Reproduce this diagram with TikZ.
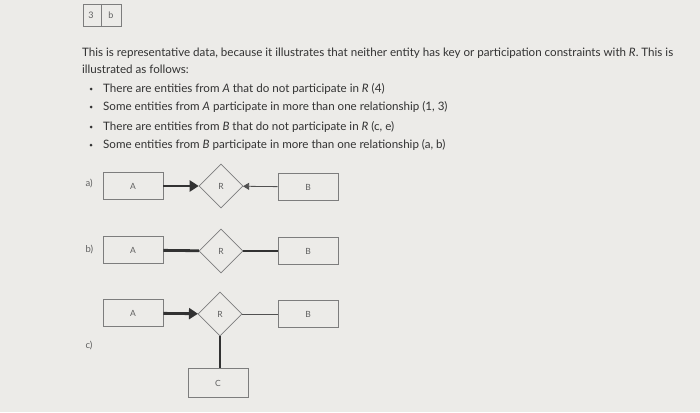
\documentclass[tikz,border=0pt]{standalone}
\usepackage{fontspec}
\setmainfont{Lato}
\usetikzlibrary{shapes.geometric,positioning,arrows.meta}
\definecolor{paper}{RGB}{236,235,232}
\definecolor{ink}{RGB}{50,50,50}
\definecolor{boxline}{RGB}{125,125,125}
\definecolor{boxtext}{RGB}{95,95,95}

\tikzset{
    entity/.style={draw=boxline,semithick,minimum width=60pt,minimum height=27pt,
        text=boxtext,font=\fontsize{8.5}{9}\selectfont},
    rel/.style={draw=boxline,semithick,diamond,inner sep=0pt,minimum width=44pt,minimum height=44pt,
        text=boxtext,font=\fontsize{8.5}{9}\selectfont},
    tag/.style={anchor=west,text=boxtext,font=\fontsize{9.5}{11}\selectfont},
    dot/.style={circle,fill=ink,inner sep=0pt,minimum size=3pt},
    heavy/.style={line width=2.8pt,draw=ink},
    light/.style={line width=0.8pt,draw=ink!85},
}

\begin{document}
\begin{tikzpicture}[x=1pt,y=-1pt,font=\fontsize{11.6}{14}\selectfont,text=ink]
    \useasboundingbox[fill=paper] (0,0) rectangle (700,412);

    % question tag
    \draw[boxline] (83,4) rectangle (121,26) (101,4) -- (101,26);
    \node[text=boxtext,font=\fontsize{9}{10}\selectfont] (qnum) at (91,15) {3};
    \node[text=boxtext,font=\fontsize{9}{10}\selectfont] (qpart) at (111,15) {b};

    % explanation
    \node[anchor=west,inner sep=0pt] (line1) at (82,53) {This is representative data, because it illustrates that neither entity has key or participation constraints with \textit{R}. This is};
    \node[anchor=west,inner sep=0pt] (line2) at (82,69) {illustrated as follows:};
    \foreach \y/\txt in {89/{There are entities from \textit{A} that do not participate in \textit{R} (4)},
        107/{Some entities from \textit{A} participate in more than one relationship (1, 3)},
        127/{There are entities from \textit{B} that do not participate in \textit{R} (c, e)},
        145/{Some entities from \textit{B} participate in more than one relationship (a, b)}} {
        \node[dot] at (91,\y) {};
        \node[anchor=west,inner sep=0pt] at (103,\y) {\txt};
    }

    % a)
    \node[tag] (la) at (82,184) {a)};
    \node[entity] (aA) at (133,186) {A};
    \node[rel] (aR) at (221,186) {R};
    \node[entity] (aB) at (308,187) {B};
    \draw[heavy,-{Triangle[length=9pt,width=11pt]}] (aA) -- (aR);
    \draw[light,-{Triangle[length=6pt,width=7pt]}] (aB) -- (aR);

    % b)
    \node[tag] (lb) at (82,250) {b)};
    \node[entity] (bA) at (133,250) {A};
    \node[rel] (bR) at (221,251) {R};
    \node[entity] (bB) at (308,251) {B};
    \draw[heavy] (bA) -- (bR);
    \draw[heavy] (bR) -- (bB);

    % c)
    \node[tag] (lc) at (82,346) {c)};
    \node[entity] (cA) at (133,313) {A};
    \node[rel] (cR) at (220,314) {R};
    \node[entity] (cB) at (308,314) {B};
    \node[entity,minimum height=29pt] (cC) at (218,383) {C};
    \draw[heavy,-{Triangle[length=9pt,width=11pt]}] (cA) -- (cR);
    \draw[light] (cR) -- (cB);
    \draw[heavy] (cR) -- (cR |- cC.north);
\end{tikzpicture}
\end{document}
